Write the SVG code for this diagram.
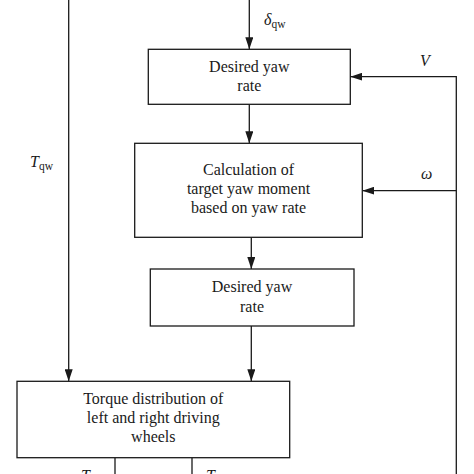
<svg xmlns="http://www.w3.org/2000/svg" width="474" height="474" viewBox="0 0 474 474">
<defs>
<marker id="ah" markerWidth="12" markerHeight="8" refX="12" refY="4" orient="auto" markerUnits="userSpaceOnUse">
<path d="M0,0 L12,4 L0,8 Z" fill="#1a1a1a"/>
</marker>
<style>
.box{fill:#fff;stroke:#1a1a1a;stroke-width:1.3}
.ln{fill:none;stroke:#1a1a1a;stroke-width:1.3}
.t{font-family:"Liberation Serif",serif;font-size:16px;fill:#1a1a1a;text-anchor:middle}
.lab{font-family:"Liberation Serif",serif;font-size:16px;font-style:italic;fill:#1a1a1a}
.sub{font-size:11.5px;font-style:normal}
</style>
</defs>
<rect width="474" height="474" fill="#fff"/>
<g id="connectors">
<line class="ln" x1="249.3" y1="0" x2="249.3" y2="49.3" marker-end="url(#ah)"/>
<line class="ln" x1="249.3" y1="104.3" x2="249.3" y2="143.3" marker-end="url(#ah)"/>
<line class="ln" x1="251.3" y1="237.3" x2="251.3" y2="269" marker-end="url(#ah)"/>
<line class="ln" x1="251.3" y1="326" x2="251.3" y2="381.3" marker-end="url(#ah)"/>
<line class="ln" x1="68.7" y1="0" x2="68.7" y2="381.3" marker-end="url(#ah)"/>
<polyline class="ln" points="456.3,474 456.3,76.7 350.3,76.7" marker-end="url(#ah)"/>
<line class="ln" x1="456.3" y1="190.7" x2="362.3" y2="190.7" marker-end="url(#ah)"/>
<line class="ln" x1="115" y1="457.7" x2="115" y2="474"/>
<line class="ln" x1="192" y1="457.7" x2="192" y2="474"/>
</g>
<g id="labels">
<text class="lab" x="264" y="25">δ<tspan class="sub" dy="3">qw</tspan></text>
<text class="lab" x="420" y="66">V</text>
<text class="lab" x="421" y="179">ω</text>
<text class="lab" x="30" y="167">T<tspan class="sub" dy="3">qw</tspan></text>
<text class="lab" x="81" y="481">T</text>
<text class="lab" x="206" y="481">T</text>
</g>
<g id="node1">
<rect class="box" x="148.3" y="49.3" width="202" height="55"/>
<text class="t" x="249.3" y="72">Desired yaw</text>
<text class="t" x="249.3" y="91">rate</text>
</g>
<g id="node2">
<rect class="box" x="134.7" y="143.3" width="227.6" height="94"/>
<text class="t" x="248.5" y="175">Calculation of</text>
<text class="t" x="248.5" y="194">target yaw moment</text>
<text class="t" x="248.5" y="213">based on yaw rate</text>
</g>
<g id="node3">
<rect class="box" x="150.3" y="269" width="203.7" height="57"/>
<text class="t" x="252" y="292">Desired yaw</text>
<text class="t" x="252" y="311.5">rate</text>
</g>
<g id="node4">
<rect class="box" x="17" y="381.3" width="272.7" height="76.4"/>
<text class="t" x="153.3" y="404">Torque distribution of</text>
<text class="t" x="153.3" y="423">left and right driving</text>
<text class="t" x="153.3" y="441.5">wheels</text>
</g>
</svg>
